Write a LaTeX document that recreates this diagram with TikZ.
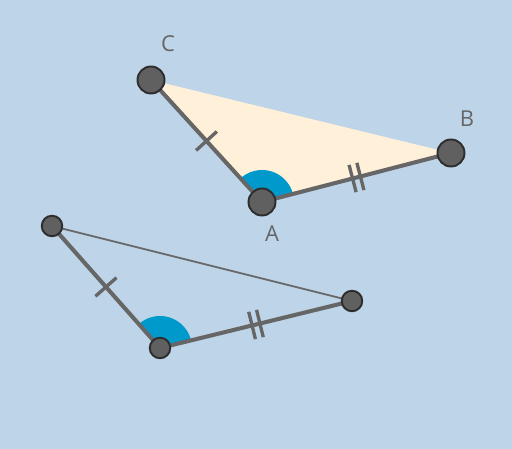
\documentclass[tikz,border=0pt]{standalone}
\usepackage{fontspec}
\setsansfont{Open Sans}
\usetikzlibrary{angles, decorations.markings}
\definecolor{bgblue}{RGB}{190,212,232}
\definecolor{cream}{RGB}{255,240,217}
\definecolor{anglblue}{RGB}{0,153,204}
\definecolor{sidegray}{RGB}{102,102,102}
\definecolor{ptfill}{RGB}{96,96,96}
\definecolor{ptline}{RGB}{45,45,45}
\begin{document}
\begin{tikzpicture}[x=0.02cm, y=0.02cm,
		side/.style={sidegray, line width=2.3pt},
		thinside/.style={sidegray, line width=1pt},
		vertex/.style={circle, fill=ptfill, draw=ptline, line width=1.1pt, inner sep=0pt, minimum size=0.54cm},
		smallvertex/.style={vertex, minimum size=0.41cm},
		lbl/.style={text=sidegray, font=\sffamily\fontsize{12.5}{14}\selectfont},
		angsector/.style={draw=none, fill=anglblue, angle radius=0.64cm},
		onetick/.style={decoration={markings,
				mark=at position 0.5 with {\draw[sidegray, line width=1.9pt] (0,-8pt) -- (0,8pt);}},
			postaction={decorate}},
		twoticks/.style={decoration={markings,
				mark=at position 0.5 with {\draw[sidegray, line width=1.9pt] (-2.3pt,-8pt) -- (-2.3pt,8pt);
					\draw[sidegray, line width=1.9pt] (2.3pt,-8pt) -- (2.3pt,8pt);}},
			postaction={decorate}}]
	% Background and frame
	\fill[bgblue] (0,0) rectangle (512,449);
	\useasboundingbox (0,0) rectangle (512,449);
	
	% Upper triangle ABC
	\coordinate (C) at (151,369);
	\coordinate (A) at (262,247);
	\coordinate (B) at (451,296);
	\fill[cream] (A) -- (B) -- (C) -- cycle;
	\pic[angsector] {angle = B--A--C};
	\draw[side, onetick] (C) -- (A);
	\draw[side, twoticks] (A) -- (B);
	\node[vertex] (c) at (C) {};
	\node[vertex] (a) at (A) {};
	\node[vertex] (b) at (B) {};
	\node[lbl] (labC) at (168,405) {C};
	\node[lbl] (labB) at (467,330) {B};
	\node[lbl] (labA) at (272,215) {A};
	
	% Lower triangle PQR
	\coordinate (P) at (52,223);
	\coordinate (Q) at (160,101);
	\coordinate (R) at (352,148);
	\pic[angsector] {angle = R--Q--P};
	\draw[thinside] (P) -- (R);
	\draw[side, onetick] (P) -- (Q);
	\draw[side, twoticks] (Q) -- (R);
	\node[smallvertex] (p) at (P) {};
	\node[smallvertex] (q) at (Q) {};
	\node[smallvertex] (r) at (R) {};
\end{tikzpicture}
\end{document}
